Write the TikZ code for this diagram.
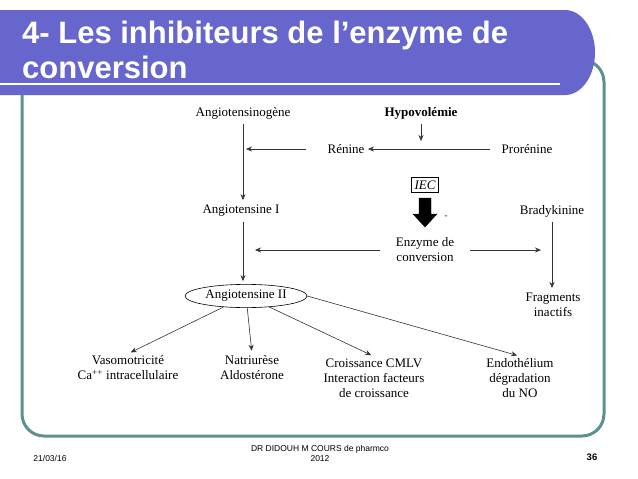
\documentclass[tikz,border=0pt]{standalone}
\usepackage{fontspec}
\setmainfont{Liberation Serif}
\newfontfamily\hdr{Liberation Sans}
\usetikzlibrary{arrows.meta,shapes.geometric}
\definecolor{banner}{HTML}{6666CC}
\definecolor{frame}{HTML}{5E9090}
\begin{document}
\begin{tikzpicture}[x=1pt,y=-1pt,
  lbl/.style={font=\fontsize{13}{15}\selectfont,align=center,inner sep=2pt},
  arr/.style={-{Stealth[length=6pt,width=5pt]},line width=0.6pt,black!80,shorten >=3pt,shorten <=3pt}]
\useasboundingbox (0,0) rectangle (638,479);
\fill[white] (0,0) rectangle (638,479);
% frame
\draw[frame,line width=3pt,rounded corners=22pt] (22,60) rectangle (604,436);
% banner
\fill[banner] (0,10) -- (565,10) arc[start angle=90,end angle=-90,x radius=30,y radius=-42.5] -- (0,95) -- cycle;
\draw[white,line width=1.2pt] (0,84) -- (560,84);
\node[anchor=base west,text=white,font=\hdr\bfseries\fontsize{31}{35}\selectfont,align=left,inner sep=0pt] (title) at (22,43) {4- Les inhibiteurs de l’enzyme de};
\node[anchor=base west,text=white,font=\hdr\bfseries\fontsize{31}{35}\selectfont,align=left,inner sep=0pt] (title2) at (22,78) {conversion};
% nodes
\node[lbl] (ago) at (243,113) {Angiotensinogène};
\node[lbl,font=\bfseries\fontsize{13}{15}\selectfont] (hypo) at (421,113) {Hypovolémie};
\node[lbl] (ren) at (346,149) {Rénine};
\node[lbl] (pro) at (527,149) {Prorénine};
\node[lbl,draw,inner sep=3pt,font=\itshape\fontsize{13}{15}\selectfont] (iec) at (425,185) {IEC};
\node[lbl] (a1) at (241,211) {Angiotensine I};
\node[lbl] (bra) at (552,211) {Bradykinine};
\node[lbl] (enz) at (425,250) {Enzyme de\\conversion};
\node[lbl,draw,ellipse,inner sep=2.5pt,line width=0.6pt] (a2) at (246,296) {Angiotensine II};
\node[lbl] (frag) at (553,305) {Fragments\\inactifs};
\node[lbl] (vaso) at (128,368) {Vasomotricité\\Ca\textsuperscript{++} intracellulaire};
\node[lbl] (natr) at (252,368) {Natriurèse\\Aldostérone};
\node[lbl] (crois) at (374,378) {Croissance CMLV\\Interaction facteurs\\de croissance};
\node[lbl] (endo) at (520,378) {Endothélium\\dégradation\\du NO};
\coordinate (hypoEnd) at (421,144);
\coordinate (renL) at (246,149);
\coordinate (enzL) at (255,250);
\coordinate (enzR) at (541,250);
\coordinate (renR) at (368,149);
\coordinate (proL) at (490,149);
% arrows
\draw[arr] (hypo) -- (hypoEnd);
\draw[arr,shorten >=0pt,shorten <=0pt] (proL) -- (renR);
\draw[arr,shorten <=0pt,shorten >=0pt] (306,149) -- (renL);
\draw[arr] (ago.south -| 243,0) -- (a1.north -| 243,0);
\draw[arr] (a1.south -| 243,0) -- (a2.north -| 243,0);
\draw[arr,shorten <=0pt,shorten >=0pt] (380,250) -- (enzL);
\draw[arr,shorten <=0pt,shorten >=0pt] (470,250) -- (enzR);
\draw[arr] (bra.south -| 552,0) -- (frag.north -| 552,0);
\draw[fill=black] (419,198) -- (431,198) -- (431,214) -- (437,214) -- (425,227) -- (413,214) -- (419,214) -- cycle;
\node[font=\fontsize{9}{10}\selectfont] (minus) at (446,217) {-};
\draw[arr,shorten <=0pt] (a2) -- (vaso.north);
\draw[arr,shorten <=0pt] (a2) -- (natr.north);
\draw[arr,shorten <=0pt] (a2) -- (crois.north);
\draw[arr,shorten <=0pt] (a2.east) -- (endo.north);
% footer
\node[font=\hdr\fontsize{8.5}{10}\selectfont] (date) at (50,458) {21/03/16};
\node[font=\hdr\fontsize{8.5}{10}\selectfont,align=center] (auth) at (320,453) {DR DIDOUH M COURS de pharmco\\2012};
\node[font=\hdr\bfseries\fontsize{9.5}{10}\selectfont] (num) at (592,457) {36};
\end{tikzpicture}
\end{document}
